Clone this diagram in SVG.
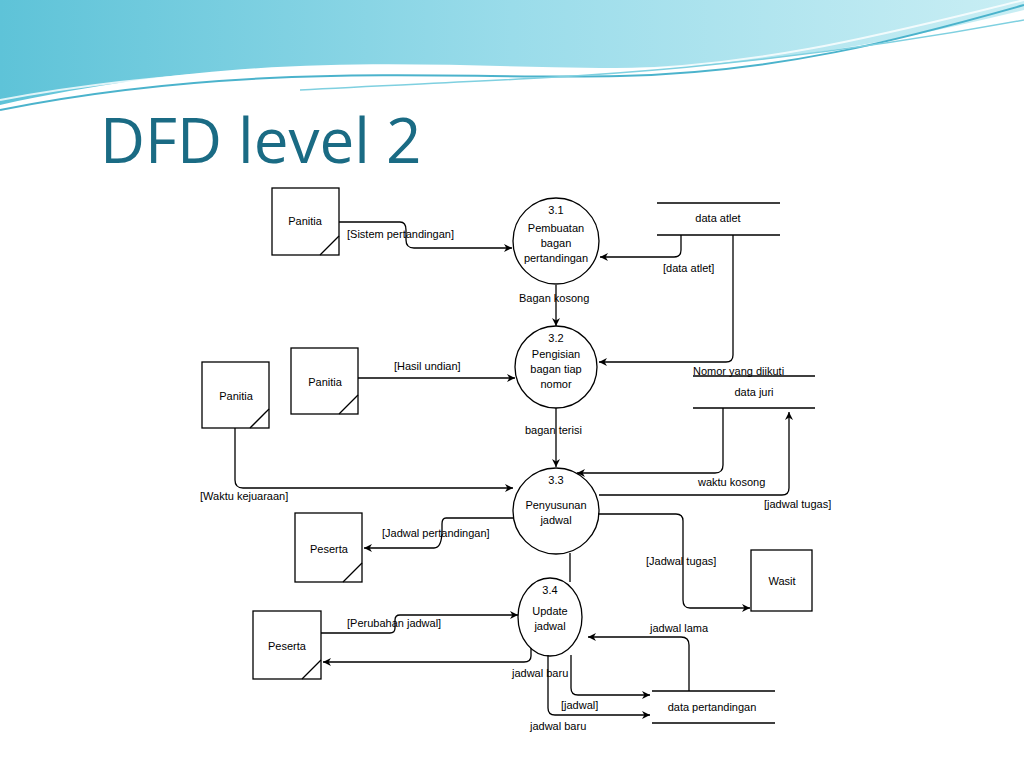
<svg xmlns="http://www.w3.org/2000/svg" width="1024" height="768" viewBox="0 0 1024 768">
<defs>
<linearGradient id="sky" x1="0" y1="0" x2="1" y2="0"><stop offset="0" stop-color="#5ec3d8"/><stop offset="0.5" stop-color="#9adcea"/><stop offset="1" stop-color="#c9eef4"/></linearGradient>
<marker id="ah" viewBox="0 0 10 10" refX="10" refY="5" markerWidth="10" markerHeight="8" orient="auto" markerUnits="userSpaceOnUse"><path d="M0,0 L10,5 L0,10 L3,5 Z" fill="#000"/></marker>
<style>
.b{fill:#fff;stroke:#000;stroke-width:1.3}
.p{fill:#fff;stroke:#000;stroke-width:1.3}
.s{stroke:#000;stroke-width:1.3;fill:none}
.c{fill:none;stroke:#000;stroke-width:1.3}
.a{marker-end:url(#ah)}
text{font-family:"Liberation Sans",Arial,sans-serif;font-size:11px;fill:#000}
.m{text-anchor:middle}
</style>
</defs>
<rect width="1024" height="768" fill="#fff"/>
<path d="M0,0 H1024 V10 C900,40 760,70 600,68 C420,66 250,50 0,105 Z" fill="url(#sky)"/>
<path d="M0,110 C250,60 460,80 620,76 C780,72 900,40 1024,5" fill="none" stroke="#4bb3cc" stroke-width="2"/>
<path d="M0,100 C240,55 450,72 610,70 C770,66 900,30 1024,0" fill="none" stroke="#ffffff" stroke-width="2" opacity="0.8"/>
<path d="M300,90 C500,78 700,80 1024,20" fill="none" stroke="#7fd0e0" stroke-width="1.5"/>
<text x="100" y="163" style="font-family:'Open Sans','Liberation Sans',sans-serif;font-size:62px;fill:#1a6b84">DFD level 2</text>

<g id="panitia1"><rect class="b" x="272" y="188" width="67" height="67"/><path class="s" d="M320,255 L339,236"/><text x="305" y="225" class="m">Panitia</text></g>
<g id="panitia2"><rect class="b" x="291" y="348" width="67" height="66"/><path class="s" d="M339,414 L358,395"/><text x="325" y="386" class="m">Panitia</text></g>
<g id="panitia3"><rect class="b" x="202" y="362" width="67" height="66"/><path class="s" d="M250,428 L269,409"/><text x="236" y="400" class="m">Panitia</text></g>
<g id="peserta1"><rect class="b" x="295" y="513" width="67" height="69"/><path class="s" d="M343,582 L362,563"/><text x="329" y="553" class="m">Peserta</text></g>
<g id="peserta2"><rect class="b" x="253" y="611" width="68" height="68"/><path class="s" d="M302,679 L321,660"/><text x="287" y="650" class="m">Peserta</text></g>
<g id="wasit"><rect class="b" x="751" y="550" width="61" height="61"/><text x="782" y="585" class="m">Wasit</text></g>

<g id="p31"><ellipse class="p" cx="556" cy="241" rx="43" ry="43"/><text x="556" y="214" class="m">3.1</text><text x="556" y="232" class="m">Pembuatan</text><text x="556" y="247" class="m">bagan</text><text x="556" y="262" class="m">pertandingan</text></g>
<g id="p32"><ellipse class="p" cx="556" cy="367" rx="41" ry="41"/><text x="556" y="342" class="m">3.2</text><text x="556" y="358" class="m">Pengisian</text><text x="556" y="373" class="m">bagan tiap</text><text x="556" y="388" class="m">nomor</text></g>
<g id="p33"><ellipse class="p" cx="556" cy="511" rx="43" ry="43"/><text x="556" y="484" class="m">3.3</text><text x="556" y="509" class="m">Penyusunan</text><text x="556" y="524" class="m">jadwal</text></g>
<g id="p34"><ellipse class="p" cx="550" cy="617" rx="32" ry="39"/><text x="550" y="594" class="m">3.4</text><text x="550" y="615" class="m">Update</text><text x="550" y="630" class="m">jadwal</text></g>

<g id="dataatlet"><path class="s" d="M657,203 H780 M657,235 H780"/><text x="718" y="222" class="m">data atlet</text></g>
<g id="datajuri"><text x="693" y="375">Nomor yang diikuti</text><path class="s" d="M693,376 H815 M693,408 H815"/><text x="754" y="396" class="m">data juri</text></g>
<g id="datapertandingan"><path class="s" d="M652,691 H775 M652,723 H775"/><text x="712" y="711" class="m">data pertandingan</text></g>

<g id="connectors">
<path class="c a" d="M339,222 H400 Q406,222 406,230 V240 Q406,248 414,248 H512"/>
<path class="c a" d="M681,235 V250 Q681,257 674,257 H600"/>
<path class="c a" d="M733,235 V355 Q733,362 726,362 H599"/>
<path class="c a" d="M556,285 V326"/>
<path class="c a" d="M358,378 H515"/>
<path class="c a" d="M556,408 V467"/>
<path class="c a" d="M235,428 V480 Q235,488 243,488 H513"/>
<path class="c a" d="M723,408 V465 Q723,473 715,473 H577"/>
<path class="c a" d="M599,495 H782 Q789,495 789,488 V412"/>
<path class="c a" d="M514,518 H446 Q442,518 442,524 V530 Q442,548 434,548 H364"/>
<path class="c a" d="M598,514 H676 Q683,514 683,521 V600 Q683,608 690,608 H750"/>
<path class="c" d="M570,553 V582"/>
<path class="c a" d="M321,633 H390 Q395,633 395,628 V620 Q395,615 400,615 H518"/>
<path class="c a" d="M531,648 V656 Q531,662 524,662 H323"/>
<path class="c a" d="M689,691 V645 Q689,637 681,637 H588"/>
<path class="c a" d="M571,655 V688 Q571,695 578,695 H650"/>
<path class="c a" d="M548,655 V708 Q548,715 555,715 H650"/>
</g>
<g id="labels">
<text x="347" y="238">[Sistem pertandingan]</text>
<text x="663" y="272">[data atlet]</text>
<text x="519" y="302">Bagan kosong</text>
<text x="394" y="370">[Hasil undian]</text>
<text x="525" y="434">bagan terisi</text>
<text x="200" y="500">[Waktu kejuaraan]</text>
<text x="698" y="486">waktu kosong</text>
<text x="764" y="508">[jadwal tugas]</text>
<text x="382" y="537">[Jadwal pertandingan]</text>
<text x="646" y="565">[Jadwal tugas]</text>
<text x="347" y="627">[Perubahan jadwal]</text>
<text x="650" y="632">jadwal lama</text>
<text x="512" y="677">jadwal baru</text>
<text x="561" y="709">[jadwal]</text>
<text x="530" y="730">jadwal baru</text>
</g>
</svg>
